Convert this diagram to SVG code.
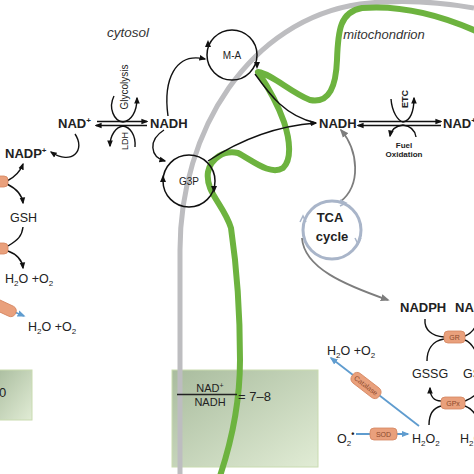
<svg xmlns="http://www.w3.org/2000/svg" width="474" height="474" viewBox="0 0 474 474">
<style>
text{font-family:"Liberation Sans",Arial,sans-serif;fill:#222}
.b{font-weight:bold}
.it{font-style:italic;fill:#333}
.ln{fill:none;stroke:#111;stroke-width:1.4}
.gl{fill:none;stroke:#7d7d7d;stroke-width:1.8}
.bl{fill:none;stroke:#5f9ccf;stroke-width:1.8}
.enz{fill:#e9a07c;stroke:#d4855f;stroke-width:0.8}
.et{font-size:7px;fill:#8b4a2c;text-anchor:middle}
.circ{fill:none;stroke:#111;stroke-width:1.5}
.mem-o{fill:none;stroke:#bdbdc0;stroke-width:5}
.mem-i{fill:none;stroke:#6db33f;stroke-width:6;stroke-linejoin:round}
</style>
<defs>
<marker id="ah" viewBox="0 0 10 10" refX="8" refY="5" markerWidth="7" markerHeight="7" markerUnits="userSpaceOnUse" orient="auto"><path d="M0,1 L10,5 L0,9 z" fill="#111"/></marker>
<marker id="ag" viewBox="0 0 10 10" refX="8" refY="5" markerWidth="9" markerHeight="9" markerUnits="userSpaceOnUse" orient="auto"><path d="M0,1 L10,5 L0,9 z" fill="#7d7d7d"/></marker>
<marker id="ab" viewBox="0 0 10 10" refX="8" refY="5" markerWidth="8" markerHeight="8" markerUnits="userSpaceOnUse" orient="auto"><path d="M0,1 L10,5 L0,9 z" fill="#5f9ccf"/></marker>
<linearGradient id="gb" x1="0" y1="0" x2="1" y2="1"><stop offset="0" stop-color="#a9bc9e"/><stop offset="1" stop-color="#e1ecd5"/></linearGradient>
</defs>

<g id="ratio-box-left">
<rect x="-5" y="370" width="37" height="50" fill="url(#gb)" stroke="#c9dbb0"/>
<text x="-1" y="397" font-size="13" fill="#333">0</text>
</g>
<g id="ratio-box">
<rect x="172" y="370" width="146" height="97" fill="url(#gb)" stroke="#c9dbb0"/>
</g>

<g id="membranes">
<path class="mem-o" d="M180,474 V250 C180,130 250,20 360,4 C400,-1 440,2 474,8"/>
<path class="mem-i" d="M220,476 C232,440 240,400 240,360 C240,300 236,262 231,228 C224,205 205,192 208,172 C211,158 224,150 238,153 C252,160 270,176 283,168 C292,160 290,140 284,122 C277,102 266,84 258,72 C272,74 290,92 310,100 C330,104 336,85 337,60 C338,30 340,12 362,8 C400,5 440,15 476,31"/>
</g>

<g id="labels">
<text class="it" x="128" y="37" font-size="13.5" text-anchor="middle">cytosol</text>
<text class="it" x="384" y="39" font-size="13" text-anchor="middle">mitochondrion</text>
</g>

<g id="ratio-text">
<text x="210" y="392" font-size="11" text-anchor="middle" fill="#333">NAD<tspan font-size="7" dy="-4">+</tspan></text>
<line x1="177" y1="394.5" x2="237" y2="394.5" stroke="#222" stroke-width="1.3"/>
<text x="210" y="406" font-size="11" text-anchor="middle" fill="#333">NADH</text>
<text x="238" y="401" font-size="13" fill="#333">= 7–8</text>
</g>

<g id="connectors">
<path class="ln" d="M97,121.5 H147" marker-end="url(#ah)" stroke-width="1.1"/>
<path class="ln" d="M147,125.5 H96" marker-end="url(#ah)" stroke-width="1.1"/>
<path class="ln" d="M114,96 C108,108 114,121 123,122 C131,121 137,112 137,98" marker-end="url(#ah)" stroke-width="1.1"/>
<path class="ln" d="M135,147 C136,135 130,127 123,126 C116,127 110,135 110,146" marker-end="url(#ah)" stroke-width="1.1"/>
<path class="ln" d="M168,116 C163,80 175,52 205,59" marker-end="url(#ah)"/>
<path class="ln" d="M164,130 C148,140 150,157 165,161" marker-end="url(#ah)"/>
<path class="ln" d="M255,74 C270,95 285,116 316,123"/>
<path class="ln" d="M208,161 C240,140 275,126 316,123" marker-end="url(#ah)"/>
<path class="ln" d="M359,121.5 H441" marker-end="url(#ah)" stroke-width="1.1"/>
<path class="ln" d="M441,125.5 H358" marker-end="url(#ah)" stroke-width="1.1"/>
<path class="ln" d="M391,99 C392,112 398,121 403,122 C410,121 414,112 414,98" marker-end="url(#ah)" stroke-width="1.1"/>
<path class="ln" d="M416,137 C415,130 410,126 403,125 C396,126 391,130 390,136" marker-end="url(#ah)" stroke-width="1.1"/>
<path class="gl" d="M340,202 C362,185 358,150 341,130" marker-end="url(#ag)"/>
<path class="gl" d="M302,238 C304,268 345,285 388,300" marker-end="url(#ag)"/>
<path class="ln" d="M75,134 C86,150 72,166 51,152" marker-end="url(#ah)"/>
<path class="ln" d="M7,181 C15,177 20,172 23,164" marker-end="url(#ah)"/>
<path class="ln" d="M7,184 C15,188 22,194 23,203" marker-end="url(#ah)"/>
<path class="ln" d="M23,227 C22,236 18,240 8,246"/>
<path class="ln" d="M8,251 C16,254 22,259 23,268" marker-end="url(#ah)"/>
<path class="bl" d="M12,311 L24,316" marker-end="url(#ab)"/>
<path class="ln" d="M425,319 C424,330 432,336 444,337"/>
<path class="ln" d="M444,339 C432,341 427,350 427,361"/>
<path class="ln" d="M465,336 C470,334 474,330 476,325"/>
<path class="ln" d="M465,340 C470,342 474,348 476,352"/>
<path class="ln" d="M441,401 C434,401 430,396 430,388" marker-end="url(#ah)"/>
<path class="ln" d="M441,406 C433,408 429,414 429,425"/>
<path class="ln" d="M465,401 C470,399 474,396 476,394"/>
<path class="ln" d="M465,406 C470,408 474,412 476,416"/>
<path class="bl" d="M356,434 H408" marker-end="url(#ab)"/>
<path class="bl" d="M419,426 L331,358" marker-end="url(#ab)"/>
</g>

<g id="M-A">
<circle class="circ" cx="232" cy="55" r="25"/>
<path d="M205,47 L208,40 L211,47 z" fill="#111"/>
<path d="M254,62 L257,69 L260,62 z" fill="#111"/>
<text x="232" y="59" font-size="10" text-anchor="middle">M-A</text>
</g>
<g id="G3P">
<circle class="circ" cx="189" cy="181" r="26"/>
<path d="M160,182 L163,175 L166,182 z" fill="#111"/>
<path d="M211,186 L214,193 L217,186 z" fill="#111"/>
<text x="189" y="185" font-size="10" text-anchor="middle">G3P</text>
</g>
<g id="TCA">
<circle cx="332" cy="230" r="29" fill="#fff" stroke="#a9b5c9" stroke-width="3"/>
<path d="M340,200 L346,203 L340,206" fill="none" stroke="#a9b5c9" stroke-width="1.5"/>
<path d="M300,222 L303,216 L306,222" fill="none" stroke="#a9b5c9" stroke-width="1.5"/>
<path d="M361,238 L358,244 L355,238" fill="none" stroke="#a9b5c9" stroke-width="1.5"/>
<text class="b" x="330" y="222" font-size="13" text-anchor="middle">TCA</text>
<text class="b" x="332" y="241" font-size="13" text-anchor="middle">cycle</text>
</g>

<g id="cyto-NAD"><text class="b" x="58" y="128" font-size="13">NAD<tspan font-size="8" dy="-5">+</tspan></text></g>
<g id="cyto-NADH"><text class="b" x="150" y="128" font-size="13">NADH</text></g>
<g id="glycolysis"><text transform="translate(128,87) rotate(-90)" font-size="10" text-anchor="middle">Glycolysis</text></g>
<g id="LDH"><text transform="translate(128,141) rotate(-90)" font-size="9" text-anchor="middle">LDH</text></g>
<g id="mito-NADH"><text class="b" x="319" y="128" font-size="13">NADH</text></g>
<g id="mito-NAD"><text class="b" x="443" y="128" font-size="13">NAD<tspan font-size="8" dy="-5">+</tspan></text></g>
<g id="ETC"><text class="b" transform="translate(408,99) rotate(-90)" font-size="9" text-anchor="middle">ETC</text></g>
<g id="fuel-ox">
<text class="b" x="404" y="148" font-size="8" text-anchor="middle" fill="#444">Fuel</text>
<text class="b" x="404" y="157" font-size="8" text-anchor="middle" fill="#444">Oxidation</text>
</g>

<g id="NADP-left"><text class="b" x="5" y="158" font-size="13">NADP<tspan font-size="8" dy="-5">+</tspan></text></g>
<g id="GR-left"><rect class="enz" x="-12" y="176" width="20" height="11" rx="4"/></g>
<g id="GSH-left"><text x="10" y="222" font-size="12.5">GSH</text></g>
<g id="GPx-left"><rect class="enz" x="-12" y="243" width="20" height="11" rx="4"/></g>
<g id="H2O-left1"><text x="5" y="283" font-size="12.5">H<tspan font-size="8" dy="3">2</tspan><tspan dy="-3">O +O</tspan><tspan font-size="8" dy="3">2</tspan></text></g>
<g id="catalase-left"><rect class="enz" x="-15" y="-5.5" width="30" height="11" rx="5" transform="translate(2,307) rotate(25)"/></g>
<g id="H2O-left2"><text x="28" y="331" font-size="12.5">H<tspan font-size="8" dy="3">2</tspan><tspan dy="-3">O +O</tspan><tspan font-size="8" dy="3">2</tspan></text></g>

<g id="NADPH"><text class="b" x="400" y="312" font-size="13">NADPH</text></g>
<g id="NADP-right"><text class="b" x="455" y="312" font-size="13">NADP<tspan font-size="8" dy="-5">+</tspan></text></g>
<g id="GR"><rect class="enz" x="444" y="331" width="21" height="12" rx="4"/><text class="et" x="454.5" y="340">GR</text></g>
<g id="GSSG"><text x="412" y="378" font-size="12.5">GSSG</text></g>
<g id="GSH-right"><text x="463" y="378" font-size="12.5">GSH</text></g>
<g id="GPx"><rect class="enz" x="441" y="397" width="24" height="12" rx="4"/><text class="et" x="453" y="406">GPx</text></g>
<g id="H2O2"><text x="412" y="443" font-size="12.5">H<tspan font-size="8" dy="3">2</tspan><tspan dy="-3">O</tspan><tspan font-size="8" dy="3">2</tspan></text></g>
<g id="H2O2-right"><text x="460" y="443" font-size="12.5">H<tspan font-size="8" dy="3">2</tspan><tspan dy="-3">O</tspan><tspan font-size="8" dy="3">2</tspan></text></g>
<g id="O2"><text x="337" y="443" font-size="12.5">O<tspan font-size="8" dy="3">2</tspan><tspan font-size="9" dy="-9" class="b">•</tspan></text></g>
<g id="SOD"><rect class="enz" x="370" y="428" width="27" height="12" rx="4"/><text class="et" x="383.5" y="437">SOD</text></g>
<g id="catalase"><g transform="translate(366,385.5) rotate(37.7)"><rect class="enz" x="-17" y="-6" width="34" height="12" rx="5"/><text class="et" x="0" y="2.5">Catalase</text></g></g>
<g id="H2O-right"><text x="327" y="355" font-size="12.5">H<tspan font-size="8" dy="3">2</tspan><tspan dy="-3">O +O</tspan><tspan font-size="8" dy="3">2</tspan></text></g>
</svg>
